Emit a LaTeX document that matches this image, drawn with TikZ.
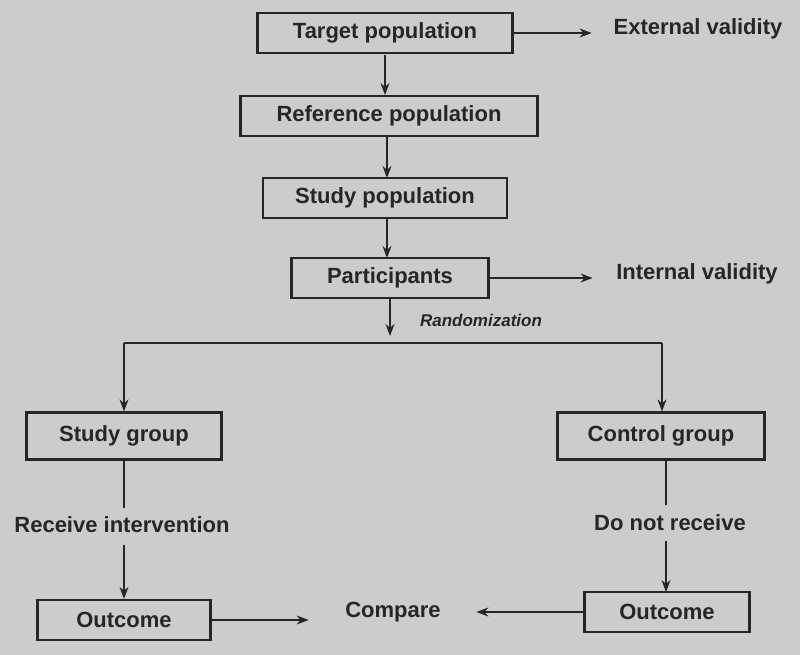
\documentclass[tikz,border=0pt]{standalone}
\usepackage{fontspec}
\setmainfont{Liberation Sans}
\usetikzlibrary{arrows.meta}
\begin{document}
\begin{tikzpicture}[x=1pt,y=-1pt,
 bx/.style={draw=black!85,line width=2.2pt,minimum height=40pt,inner sep=0pt,font=\bfseries\fontsize{22}{24}\selectfont,text=black!85},
 lbl/.style={font=\bfseries\fontsize{22}{24}\selectfont,text=black!85},
 ar/.style={draw=black!85,line width=1.3pt,-{Stealth[length=12pt,width=9pt]}}]
\fill[black!20] (0,0) rectangle (800,655);
\useasboundingbox (0,0) rectangle (800,655);
\node[bx,minimum width=255pt] (t) at (385,33) {Target population};
\node[bx,minimum width=297pt] (r) at (389,116) {Reference population};
\node[bx,minimum width=244pt] (s) at (385,198) {Study population};
\node[bx,minimum width=197pt] (p) at (390,278) {Participants};
\node[lbl] (ev) at (698,29) {External validity};
\node[lbl] (iv) at (697,274) {Internal validity};
\node[font=\bfseries\itshape\fontsize{17}{19}\selectfont,text=black!85] (rnd) at (481,320) {Randomization};
\coordinate (pm) at (390,336);
\coordinate (l) at (124,343);
\coordinate (rr) at (662,343);
\node[bx,minimum width=195pt,minimum height=47pt] (sg) at (124,436) {Study group};
\node[bx,minimum width=207pt,minimum height=47pt] (cg) at (661,436) {Control group};
\node[lbl] (ri) at (122,525) {Receive intervention};
\node[lbl] (dn) at (670,523) {Do not receive};
\node[bx,minimum width=173pt] (o1) at (124,620) {Outcome};
\node[bx,minimum width=165pt] (o2) at (667,612) {Outcome};
\node[lbl] (cmp) at (393,612) {Compare};
\draw[ar] (385,55) -- (385,95);
\draw[ar] (387,137) -- (387,178);
\draw[ar] (387,219) -- (387,258);
\draw[ar] (t.east) -- ++(78,0);
\draw[ar] (p.east) -- ++(103,0);
\draw[ar] (390,299) -- (pm);
\draw[draw=black!85,line width=1.6pt] (l) -- (rr);
\draw[ar] (l) -- (sg.north);
\draw[ar] (rr) -- (cg.north -| rr);
\draw[draw=black!85,line width=1.6pt] (sg.south) -- (124,508);
\draw[draw=black!85,line width=1.6pt] (666,460) -- (666,505);
\draw[ar] (124,545) -- (o1.north);
\draw[ar] (666,541) -- (666,592);
\draw[ar] (o1.east) -- ++(97,0);
\draw[ar] (o2.west) -- ++(-107,0);
\end{tikzpicture}
\end{document}
